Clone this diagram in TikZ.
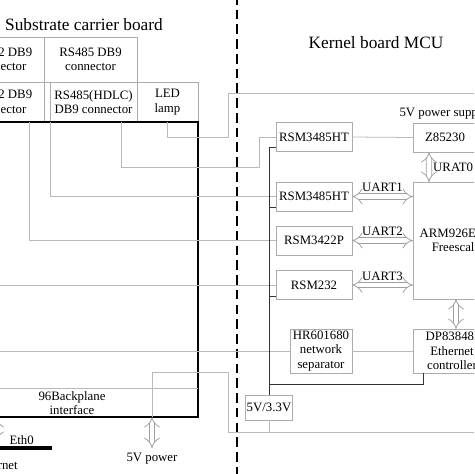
\documentclass[tikz,border=0pt]{standalone}
\usepackage{fontspec}
\setmainfont{Liberation Serif}
\usetikzlibrary{arrows.meta,calc}

\begin{document}
\begin{tikzpicture}[x=0.78pt, y=-0.78pt,
  box/.style={draw=gray!65, line width=0.6pt, inner sep=1pt, outer sep=0pt, align=center, font=\fontsize{10}{11.3}\selectfont},
  lbl/.style={inner sep=1pt, font=\fontsize{10}{11.3}\selectfont},
  ttl/.style={inner sep=1pt, font=\fontsize{13.5}{16}\selectfont},
  wire/.style={draw=gray!55, line width=0.6pt},
  bus/.style={draw=black!80, line width=0.7pt},
  hollow/.style={draw=gray!75, line width=0.6pt, double=white, double distance=3.8pt, {Implies}-{Implies}}]
  \useasboundingbox (0,0) rectangle (474,474);
  \clip (0,0) rectangle (474,474);

  % Substrate carrier board
  \node[ttl] (T1) at (84,25) {Substrate carrier board};
  \node[box, minimum width=67.1pt, minimum height=35.1pt] (C1) at (1,59.5) {RS422 DB9\\connector};
  \node[box, minimum width=72.5pt, minimum height=35.1pt] (C2) at (90.5,59.5) {RS485 DB9\\connector};
  \node[box, minimum width=67.1pt, minimum height=31.2pt] (C3) at (1,102) {RS232 DB9\\connector};
  \node[box, minimum width=67.9pt, minimum height=31.2pt] (C4) at (93.5,102) {RS485(HDLC)\\DB9 connector};
  \node[box, minimum width=47.6pt, minimum height=31.2pt] (C5) at (167.5,102) {LED\\lamp};
  \node[draw, line width=1.6pt, outer sep=0pt, minimum width=162.2pt, minimum height=230.1pt] (BD) at (94,269.5) {};
  \node[lbl, align=center] (BP) at (72,403) {96Backplane\\interface};

  % Kernel board MCU
  \node[ttl] (T2) at (376,43) {Kernel board MCU};
  \node[lbl, anchor=west] (PS) at (398,113) {5V power supply};
  \node[box, minimum width=59.3pt, minimum height=22.6pt] (R1) at (314,137) {RSM3485HT};
  \node[box, minimum width=59.3pt, minimum height=22.6pt] (R2) at (314,196.5) {RSM3485HT};
  \node[box, minimum width=59.3pt, minimum height=22.6pt] (R3) at (314,240.5) {RSM3422P};
  \node[box, minimum width=59.3pt, minimum height=22.6pt] (R4) at (314,285) {RSM232};
  \node[box, minimum width=49.9pt, minimum height=22.6pt] (Z1) at (445,137.5) {Z85230};
  \node[box, minimum width=67.1pt, minimum height=91.3pt] (ARM) at (456,240.5) {ARM926EJ-S\\Freescale};
  \node[box, minimum width=48.4pt, minimum height=34.3pt] (HR) at (321,351) {HR601680\\network\\separator};
  \node[box, minimum width=60.8pt, minimum height=34.3pt] (DP) at (452,351) {DP83848I\\Ethernet\\controller};
  \node[box, minimum width=35.9pt, minimum height=19.5pt] (VB) at (269,407.5) {5V/3.3V};
  \node[lbl, anchor=north] (PW) at (152,452) {5V power};
  \node[lbl, anchor=west] (E0) at (8,440) {Eth0};
  \node[lbl, anchor=north] (EN) at (-4,459) {Ethernet};

  \coordinate (W1) at (-10,285);
  \coordinate (W2) at (-10,351);
  \coordinate (W3) at (-10,388);
  \coordinate (E1) at (480,93);
  \coordinate (E2) at (480,432);
  \coordinate (BUS) at (269,147);

  % board divider
  \draw[line width=2pt, dash pattern=on 7.5pt off 4pt] (237,-5) -- (237,480);

  % wires
  \draw[wire] (C5.south) -- ++(0,15) -- ++(61,0) |- (E1);
  \draw[wire] ($(C4.south)+(27.5,0)$) -- ++(0,45) -| ($(R1.west)+(-17,0)$) -- (R1.west);
  \draw[wire] (C4.south west) |- (R2.west);
  \draw[wire] ($(C3.south)+(28,0)$) |- (R3.west);
  \draw[wire] (W1) -- (R4.west);
  \draw[wire] (W2) -- (HR.west);
  \draw[wire] (HR.east) -- (DP.west);
  \draw[wire] (W3) -- (W3 -| BD.east);
  \draw[wire] (R1.east) -- (Z1.west);
  \draw[wire] (BD.south -| PW.north) -- ++(0,-45) -- ++(76,0) |- (E2);
  \draw[wire] (VB.south) -- (VB.south |- E2);

  % bus
  \draw[bus] (BUS) -- (VB.north);
  \draw[bus] (BUS) -- (BUS -| R1.west);
  \draw[bus] ([yshift=3pt]R2.south west) -- ++(-7,0);
  \draw[bus] ([yshift=2.3pt]R4.south west) -- ++(-7,0);
  \draw[bus] ($(VB.north)+(0,-11)$) -| ($(DP.south west)+(10,0)$);

  % hollow arrows
  \draw[hollow] (R2.east) -- (ARM.west |- R2.east) node[lbl, midway, above=2.5pt] {UART1};
  \draw[hollow] (R3.east) -- (ARM.west |- R3.east) node[lbl, midway, above=2.5pt] {UART2};
  \draw[hollow] (R4.east) -- (ARM.west |- R4.east) node[lbl, midway, above=2.5pt] {UART3};
  \draw[hollow] ($(Z1.south west)+(16,0)$) -- ($(ARM.north west)+(16,0)$) node[lbl, midway, right=2pt] {URAT0};
  \draw[hollow] (ARM.south) -- (ARM.south |- DP.north);
  \draw[hollow, shorten >=3pt] (BD.south -| PW.north) -- (PW.north);
  \draw[hollow] (BD.south -| EN.north) -- ++(0,25);
  \draw[line width=2.4pt] (-10,448) -- (52,448);
\end{tikzpicture}
\end{document}
